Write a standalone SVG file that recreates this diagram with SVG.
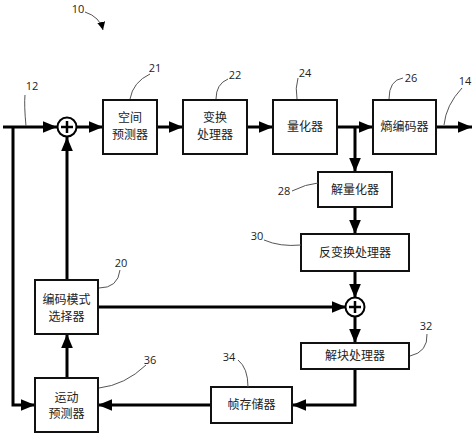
<svg xmlns="http://www.w3.org/2000/svg" width="474" height="434" viewBox="0 0 474 434">
<defs>
<style>
.box{fill:#fff;stroke:#111;stroke-width:2}
.ln{fill:none;stroke:#000;stroke-width:3}
.ld{fill:none;stroke:#555;stroke-width:1}
.t{font-family:"Noto Sans CJK SC",sans-serif;font-size:12px;fill:#222;text-anchor:middle}
.n{font-family:"Open Sans","Liberation Sans",sans-serif;font-size:11px;fill:#222;text-anchor:middle}
.sum{fill:#fff;stroke:#000;stroke-width:2}
</style>
<marker id="ah" markerUnits="userSpaceOnUse" markerWidth="14" markerHeight="12" refX="12" refY="5" orient="auto" viewBox="0 0 12 10">
<path d="M0,0 L12,5 L0,10 Z" fill="#000"/>
</marker>
<marker id="ahs" markerUnits="userSpaceOnUse" markerWidth="8" markerHeight="8" refX="7" refY="3.5" orient="auto" viewBox="0 0 7 7">
<path d="M0,0 L7,3.5 L0,7 Z" fill="#000"/>
</marker>
</defs>
<rect width="474" height="434" fill="#fff"/>

<g id="connectors">
<line class="ln" x1="3" y1="127" x2="57" y2="127" marker-end="url(#ah)"/>
<line class="ln" x1="77" y1="127" x2="103" y2="127" marker-end="url(#ah)"/>
<line class="ln" x1="157" y1="127" x2="183" y2="127" marker-end="url(#ah)"/>
<line class="ln" x1="247" y1="127" x2="273" y2="127" marker-end="url(#ah)"/>
<line class="ln" x1="337" y1="127" x2="373" y2="127" marker-end="url(#ah)"/>
<line class="ln" x1="436" y1="127" x2="472" y2="127" marker-end="url(#ah)"/>
<line class="ln" x1="355" y1="127" x2="355" y2="172" marker-end="url(#ah)"/>
<line class="ln" x1="355" y1="207" x2="355" y2="234" marker-end="url(#ah)"/>
<line class="ln" x1="355" y1="271" x2="355" y2="298" marker-end="url(#ah)"/>
<line class="ln" x1="355" y1="316" x2="355" y2="343" marker-end="url(#ah)"/>
<line class="ln" x1="98" y1="307" x2="346" y2="307" marker-end="url(#ah)"/>
<polyline class="ln" points="355,369 355,405 292,405" marker-end="url(#ah)"/>
<line class="ln" x1="211" y1="405" x2="98" y2="405" marker-end="url(#ah)"/>
<polyline class="ln" points="13,127 13,405 35,405" marker-end="url(#ah)"/>
<line class="ln" x1="67" y1="378" x2="67" y2="334" marker-end="url(#ah)"/>
<line class="ln" x1="67" y1="280" x2="67" y2="137" marker-end="url(#ah)"/>
</g>

<g id="sum1">
<circle class="sum" cx="67" cy="127" r="9.5"/>
<path d="M61,127 H73 M67,121 V133" stroke="#000" stroke-width="2.5"/>
</g>
<g id="sum2">
<circle class="sum" cx="355" cy="307" r="9.5"/>
<path d="M349,307 H361 M355,301 V313" stroke="#000" stroke-width="2.5"/>
</g>

<g id="label10">
<text class="n" x="78" y="13">10</text>
<path class="ld" d="M85,12 Q100,17 103,30" marker-end="url(#ahs)"/>
</g>
<g id="label12">
<text class="n" x="32" y="90">12</text>
<path class="ld" d="M25,95 Q24,105 26,126"/>
</g>
<g id="label14">
<text class="n" x="465" y="85">14</text>
<path class="ld" d="M462,88 Q446,105 444,125"/>
</g>

<g id="n21">
<rect class="box" x="103" y="100" width="54" height="54"/>
<text class="t" x="130" y="122">空间</text>
<text class="t" x="130" y="139">预测器</text>
<text class="n" x="155" y="72">21</text>
<path class="ld" d="M150,74 Q133,82 130,99"/>
</g>
<g id="n22">
<rect class="box" x="183" y="100" width="64" height="54"/>
<text class="t" x="215" y="122">变换</text>
<text class="t" x="215" y="139">处理器</text>
<text class="n" x="235" y="79">22</text>
<path class="ld" d="M228,79 Q216,84 216,99"/>
</g>
<g id="n24">
<rect class="box" x="273" y="100" width="64" height="54"/>
<text class="t" x="305" y="131">量化器</text>
<text class="n" x="305" y="77">24</text>
<path class="ld" d="M298,78 Q295,88 297,99"/>
</g>
<g id="n26">
<rect class="box" x="373" y="100" width="63" height="54"/>
<text class="t" x="404.5" y="131">熵编码器</text>
<text class="n" x="411" y="82">26</text>
<path class="ld" d="M403,78 Q389,80 389,99"/>
</g>
<g id="n28">
<rect class="box" x="318" y="172" width="74" height="35"/>
<text class="t" x="355" y="194">解量化器</text>
<text class="n" x="284" y="195">28</text>
<path class="ld" d="M292,191 Q306,184 318,183"/>
</g>
<g id="n30">
<rect class="box" x="301" y="234" width="108" height="37"/>
<text class="t" x="355" y="257">反变换处理器</text>
<text class="n" x="257" y="240">30</text>
<path class="ld" d="M264,240 Q280,247 301,245"/>
</g>
<g id="n32">
<rect class="box" x="301" y="343" width="108" height="26"/>
<text class="t" x="355" y="360">解块处理器</text>
<text class="n" x="426" y="330">32</text>
<path class="ld" d="M427,334 Q428,352 410,356"/>
</g>
<g id="n34">
<rect class="box" x="211" y="387" width="81" height="36"/>
<text class="t" x="251.5" y="409">帧存储器</text>
<text class="n" x="229" y="361">34</text>
<path class="ld" d="M238,360 Q248,368 248,387"/>
</g>
<g id="n20">
<rect class="box" x="35" y="280" width="63" height="54"/>
<text class="t" x="66.5" y="304">编码模式</text>
<text class="t" x="66.5" y="321">选择器</text>
<text class="n" x="121" y="267">20</text>
<path class="ld" d="M120,270 Q118,288 99,288"/>
</g>
<g id="n36">
<rect class="box" x="35" y="378" width="63" height="54"/>
<text class="t" x="66.5" y="402">运动</text>
<text class="t" x="66.5" y="418">预测器</text>
<text class="n" x="150" y="364">36</text>
<path class="ld" d="M146,365 Q125,385 99,388"/>
</g>
</svg>
